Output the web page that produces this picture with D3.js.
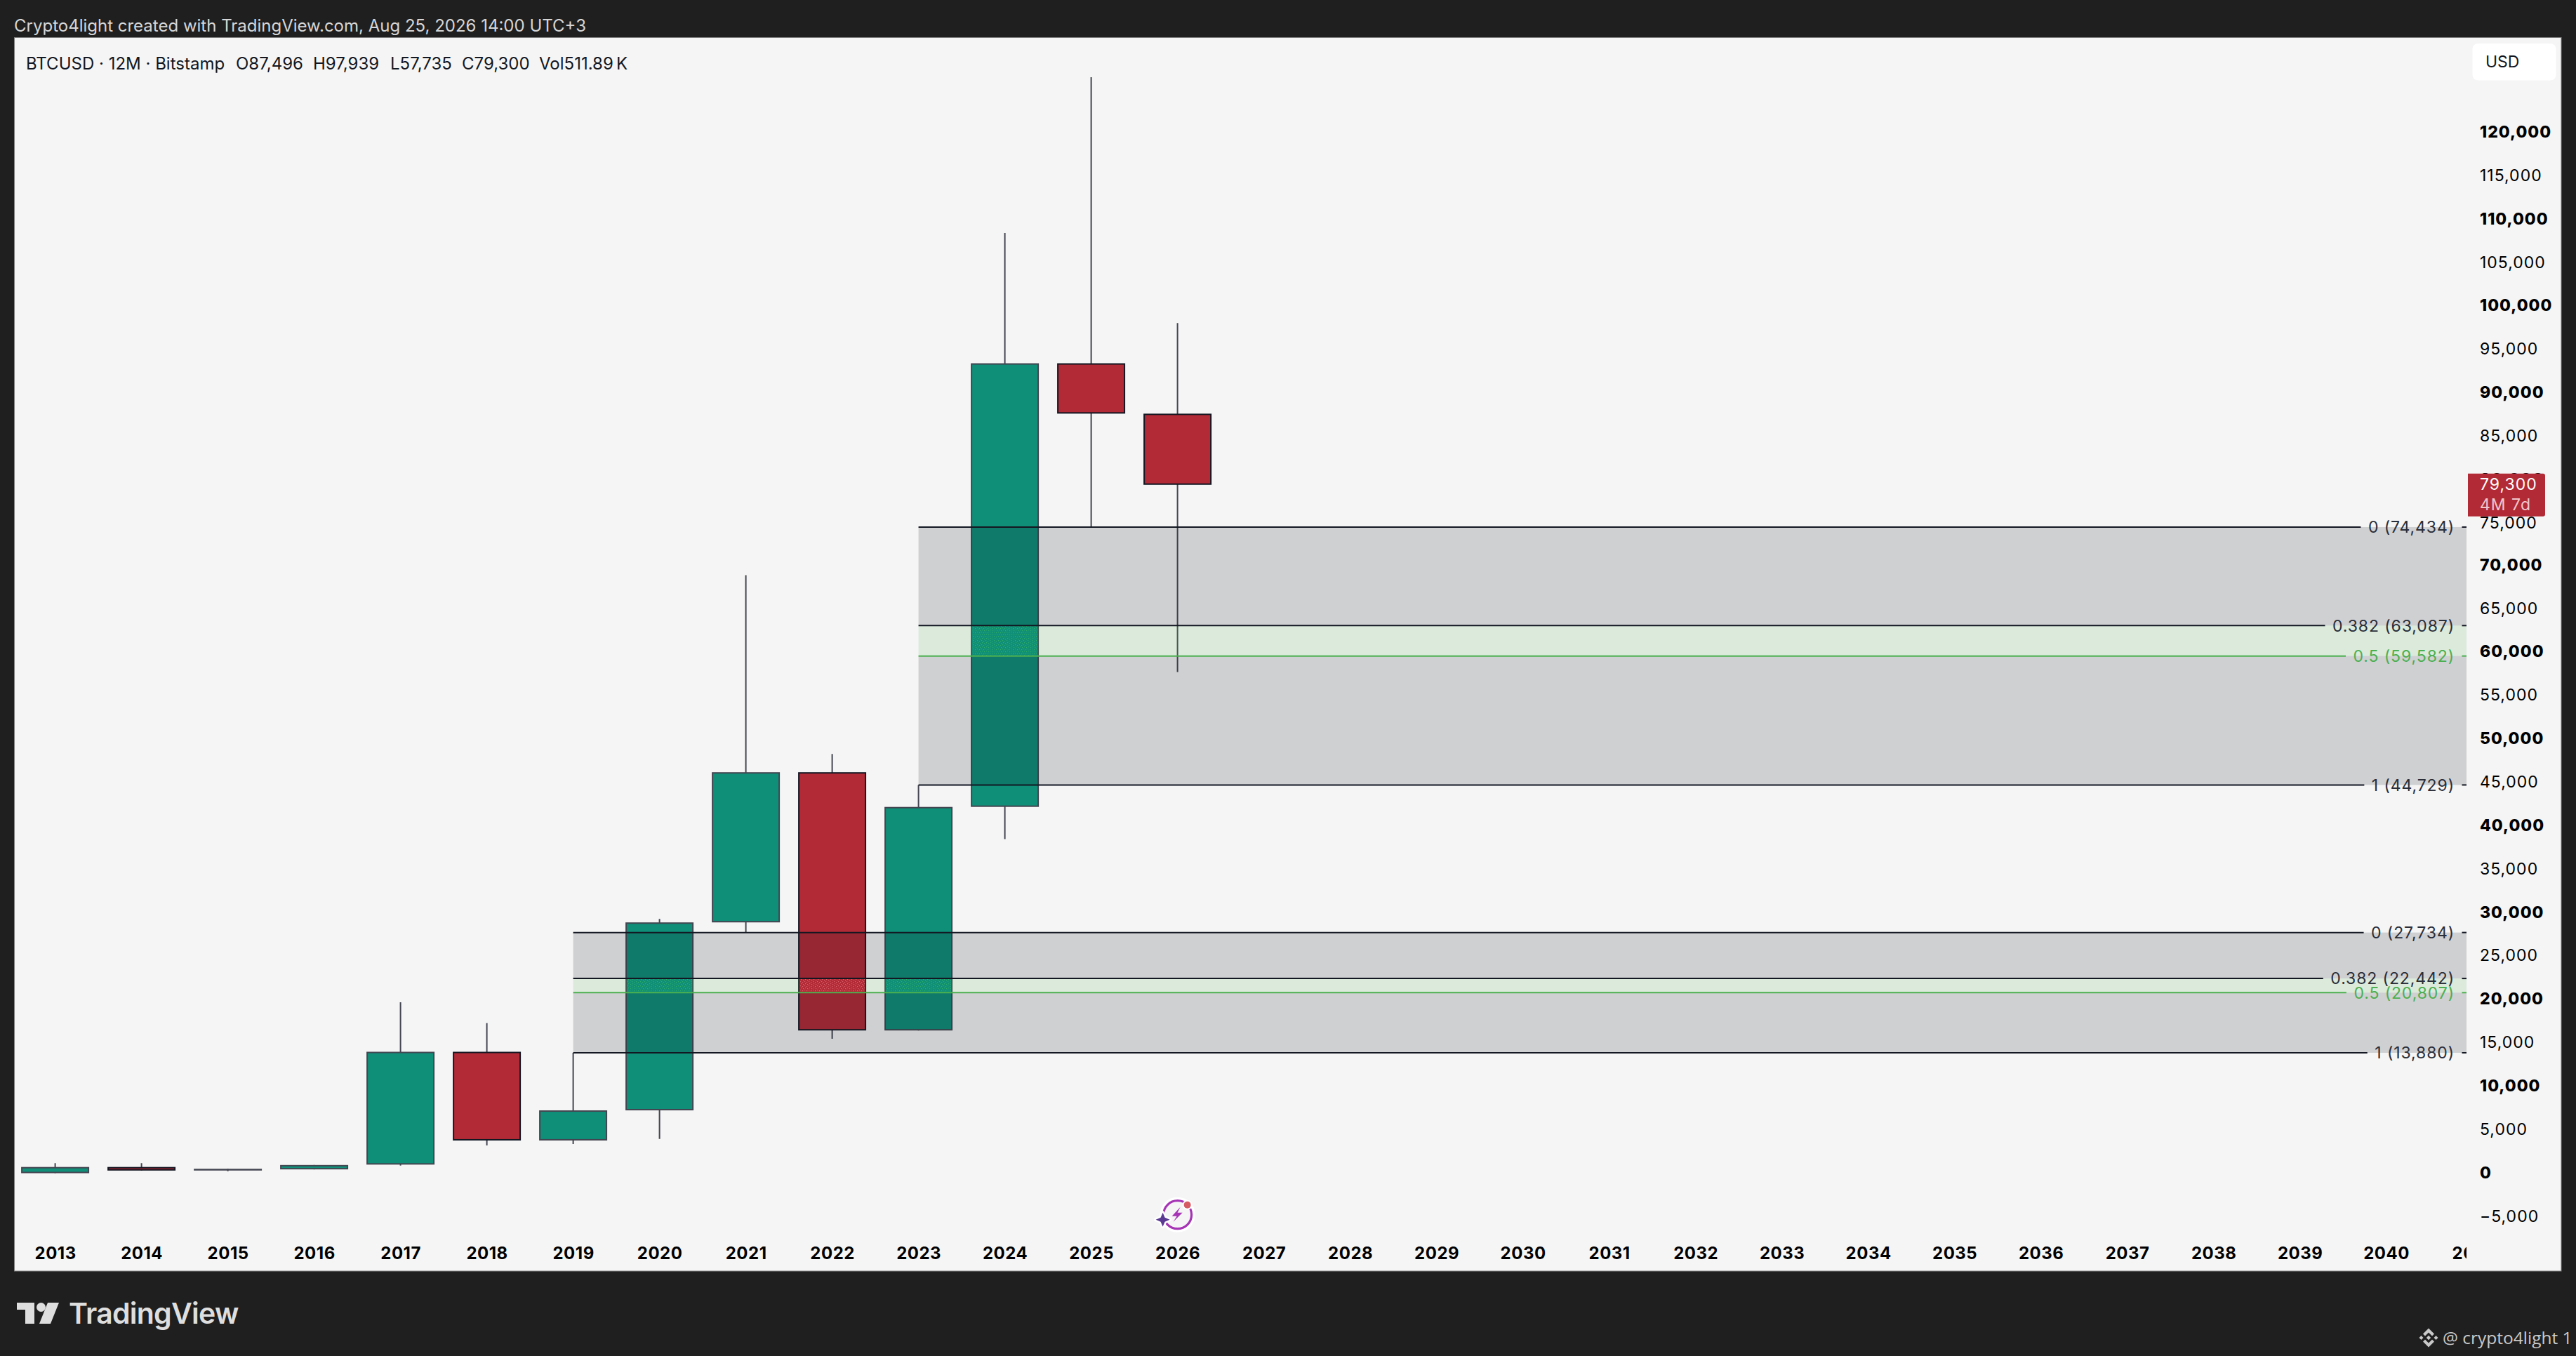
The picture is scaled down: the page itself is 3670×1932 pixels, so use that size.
<!DOCTYPE html>
<html><head><meta charset="utf-8">
<script src="https://d3js.org/d3.v7.min.js"></script>
<style>html,body{margin:0;padding:0;background:#1f1f1f}svg{display:block}text{font-family:Inter,sans-serif}</style>
</head><body><svg id="c" width="3670" height="1932"></svg>
<script>
// ---- data ----
const years  = [2013,2014,2015,2016,2017,2018,2019,2020,2021,2022,2023,2024,2025,2026];
const opens  = [13.5,730,430,450,1000,14000,3780,7250,28900,46200,16450,42200,93300,87496];
const highs  = [1163,1160,520,960,19700,17300,13880,29300,68900,48300,44729,108300,126250,97939];
const lows   = [13.5,315,240,450,890,3210,3370,3960,27734,15500,16450,38500,74434,57735];
const closes = [730,315,520,960,14000,3780,7250,28900,46200,16450,42200,93300,87500,79300];
const axisYears = d3.range(2013,2042);
const priceTicks = d3.range(-5000,120001,5000);
const fibLevels1 = [0,0.382,0.5,1];
const fibPrices1 = [74434,63087,59582,44729];
const fibLevels2 = [0,0.382,0.5,1];
const fibPrices2 = [27734,22442,20807,13880];
const legendParts = ["BTCUSD · 12M · Bitstamp","O87,496","H97,939","L57,735","C79,300","Vol511.89\u2009K"];
const headerText = "Crypto4light created with TradingView.com, Aug 25, 2026 14:00 UTC+3";

// ---- layout ----
const W=3670,H=1932,panel={l:20.5,t:53.5,r:3649,b:1811},axisX=3514;
const x=d3.scaleLinear().domain([2013,2041]).range([78.6,78.6+28*123]);
const y=d3.scaleLinear().domain([0,120000]).range([1671.7,187.3]);
const barW=97, bw=2;
const UP="#0f8e78",DOWN="#b22a35",UPB="#434651",DOWNB="#131722",INK="#131722",GREEN="#4caf50";
const svg=d3.select("#c");
svg.append("rect").attr("width",W).attr("height",H).attr("fill","#1f1f1f");
svg.append("rect").attr("x",panel.l).attr("y",panel.t).attr("width",panel.r-panel.l).attr("height",panel.b-panel.t)
  .attr("fill","#f5f5f5").attr("stroke","#808080").attr("stroke-width",1);
const defs=svg.append("defs");
defs.append("clipPath").attr("id","plot").append("rect").attr("x",panel.l).attr("y",panel.t).attr("width",axisX-panel.l).attr("height",panel.b-panel.t);
[["ditherUp","#2fae62"],["ditherDown","#d8636e"]].forEach(([id,col])=>{
  const p=defs.append("pattern").attr("id",id).attr("patternUnits","userSpaceOnUse").attr("width",6).attr("height",6);
  [[0,0],[3,1],[1,3],[4,4]].forEach(([a,b])=>p.append("rect").attr("x",a).attr("y",b).attr("width",1.2).attr("height",1.2).attr("fill",col));
});

svg.append("text").attr("x",20).attr("y",36).attr("dy","0.36em").attr("font-size",24).attr("fill","#d6d6d6").text(headerText);

// legend
const legendX=[37,336,446,556,658,768];
svg.append("g").selectAll("text").data(legendParts).join("text")
  .attr("x",(d,i)=>legendX[i]).attr("y",90).attr("dy","0.36em").attr("font-size",24).attr("fill","#131722").text(d=>d);

// candles
const plot=svg.append("g").attr("clip-path","url(#plot)");
const candles=years.map((yr,i)=>({yr,o:opens[i],h:highs[i],l:lows[i],c:closes[i],up:closes[i]>=opens[i]}));
plot.append("g").selectAll("line").data(candles).join("line")
  .attr("x1",d=>x(d.yr)).attr("x2",d=>x(d.yr)).attr("y1",d=>y(d.h)).attr("y2",d=>y(d.l))
  .attr("stroke","#434651").attr("stroke-width",2);
plot.append("g").selectAll("rect").data(candles).join("rect")
  .attr("x",d=>x(d.yr)-barW/2+bw/2).attr("width",barW-bw)
  .attr("y",d=>y(Math.max(d.o,d.c))+bw/2)
  .attr("height",d=>Math.max(0.5,Math.abs(y(d.o)-y(d.c))-bw))
  .attr("fill",d=>d.up?UP:DOWN).attr("stroke",d=>d.up?UPB:DOWNB).attr("stroke-width",bw);

// fib retracements
const FIB_FS=23;
function fib(levels,prices,startYear){
  const g=plot.append("g"), x0=x(startYear), x1=axisX;
  g.append("rect").attr("x",x0).attr("width",x1-x0).attr("y",y(prices[0])).attr("height",y(prices[1])-y(prices[0])).attr("fill",INK).attr("opacity",0.164);
  g.append("rect").attr("x",x0).attr("width",x1-x0).attr("y",y(prices[1])).attr("height",y(prices[2])-y(prices[1])).attr("fill",GREEN).attr("opacity",0.154);
  g.append("rect").attr("x",x0).attr("width",x1-x0).attr("y",y(prices[2])).attr("height",y(prices[3])-y(prices[2])).attr("fill",INK).attr("opacity",0.164);
  // where the light band crosses a candle body the body keeps its colour, with a dither on top
  const inBand=candles.filter(d=>Math.max(d.o,d.c)>=prices[1]&&Math.min(d.o,d.c)<=prices[2]&&d.yr>=startYear);
  const bandBody=g.append("g").selectAll("g").data(inBand).join("g");
  const place=s=>s.attr("x",d=>x(d.yr)-barW/2+bw).attr("width",barW-2*bw).attr("y",y(prices[1])).attr("height",y(prices[2])-y(prices[1]));
  bandBody.append("rect").call(place).attr("fill",d=>d.up?UP:DOWN);
  bandBody.append("rect").call(place).attr("fill",d=>d.up?"url(#ditherUp)":"url(#ditherDown)");
  levels.forEach((lv,i)=>{
    const col=lv===0.5?GREEN:INK, py=y(prices[i]), labelRight=3497, gap=10.5;
    const t=g.append("text").attr("x",labelRight).attr("y",py).attr("dy","0.36em").attr("text-anchor","end")
      .attr("font-size",FIB_FS).attr("letter-spacing",0.9).attr("fill",lv===0.5?GREEN:"#2a2e39").text(`${lv} (${d3.format(",")(prices[i])})`);
    const w=t.node().getComputedTextLength();
    g.insert("line","text").attr("x1",x0).attr("x2",labelRight-w-gap).attr("y1",py).attr("y2",py).attr("stroke",col).attr("stroke-width",2);
    g.insert("line","text").attr("x1",labelRight+gap).attr("x2",x1).attr("y1",py).attr("y2",py).attr("stroke",col).attr("stroke-width",2);
  });
}
fib(fibLevels1,fibPrices1,2023);
fib(fibLevels2,fibPrices2,2019);

// x axis
const xAxis=d3.axisBottom(x).tickValues(axisYears).tickFormat(d3.format("d")).tickSize(0);
const xg=plot.append("g").attr("transform","translate(0,1785)").call(xAxis);
xg.select(".domain").remove();
xg.selectAll("text").attr("y",0).attr("dy","0.36em").attr("font-family","Inter,sans-serif").attr("font-size",24).attr("font-weight",700).attr("letter-spacing",0.5).attr("fill","#000");

// y axis
const yAxis=d3.axisRight(y).tickValues(priceTicks).tickFormat(d3.format(",")).tickSize(0);
const yg=svg.append("g").attr("transform","translate(3533,0)").call(yAxis);
yg.select(".domain").remove();
yg.selectAll("text").attr("x",0).attr("dy",d=>d<75000?"0.28em":"0.36em").attr("text-anchor","start").attr("font-family","Inter,sans-serif")
  .attr("font-size",23).attr("letter-spacing",1)
  .attr("font-weight",d=>d%10000===0?800:400).attr("fill","#000");

// currency chip
svg.append("rect").attr("x",3522.5).attr("y",62).attr("width",119).attr("height",52.5).attr("rx",8).attr("fill","#fff");
svg.append("text").attr("x",3541).attr("y",88).attr("dy","0.36em").attr("font-size",23).attr("fill","#131722").text("USD");

// last price tag
const last=closes[closes.length-1];
svg.append("path").attr("fill","#b22a35").attr("d",`M3516,${y(last)-16}h107a3,3 0 0 1 3,3v55a3,3 0 0 1 -3,3h-107z`);
svg.append("text").attr("x",3533).attr("y",690).attr("dy","0.36em").attr("font-size",23).attr("letter-spacing",1).attr("fill","#fff").text(d3.format(",")(last));
svg.append("text").attr("x",3533).attr("y",718.5).attr("dy","0.36em").attr("font-size",23).attr("letter-spacing",1).attr("fill","#f0c8cc").text("4M 7d");

// sparkle badge
const bx=x(2026), by=1730.7, badge=svg.append("g").attr("transform",`translate(${bx},${by})`);
badge.append("circle").attr("r",23).attr("fill","none").attr("stroke","#fff").attr("stroke-width",4);
badge.append("circle").attr("r",20).attr("fill","none").attr("stroke","#a634b5").attr("stroke-width",3.2);
badge.append("path").attr("fill","#a634b5").attr("d","M4,-11L-8,2L-1,2L-6,10L7,-3L0,-3Z");
badge.append("circle").attr("cx",14).attr("cy",-14).attr("r",7).attr("fill","#fff");
badge.append("circle").attr("cx",14).attr("cy",-14).attr("r",5).attr("fill","#d65a62");
const star="M-21,-3L-18,4L-11,7L-18,10L-21,17L-24,10L-31,7L-24,4Z";
badge.append("path").attr("d",star).attr("fill","#fff").attr("stroke","#fff").attr("stroke-width",5).attr("stroke-linejoin","round");
badge.append("path").attr("d",star).attr("fill","#5b3a94");

// TradingView mark
const logo=svg.append("g").attr("fill","#dedede");
logo.append("path").attr("d","M24,1856H49V1886H36V1866H24Z");
logo.append("circle").attr("cx",58.5).attr("cy",1862.5).attr("r",6.5);
logo.append("path").attr("d","M68,1856H84L72,1886H56Z");
logo.append("text").attr("x",98).attr("y",1886).attr("font-size",41).attr("font-weight",600).attr("letter-spacing",-0.75).text("TradingView");

// signature
const sig=svg.append("g").attr("fill","#c9c9c9").attr("transform","translate(3460,1906)");
sig.append("path").attr("d","M0,-13.5L8,-5.5L5,-2.5L0,-7.5L-5,-2.5L-8,-5.5Z");
sig.append("path").attr("d","M0,13.5L8,5.5L5,2.5L0,7.5L-5,2.5L-8,5.5Z");
sig.append("path").attr("d","M0,-3.2L3.2,0L0,3.2L-3.2,0Z");
sig.append("path").attr("d","M-13.5,0L-10.5,-3L-7.5,0L-10.5,3Z");
sig.append("path").attr("d","M13.5,0L10.5,-3L7.5,0L10.5,3Z");
svg.append("text").attr("x",3480).attr("y",1906).attr("dy","0.36em").style("font-family","'Open Sans'").attr("fill","#c9c9c9").attr("font-size",24.5).text("@ crypto4light 1");
</script></body></html>
